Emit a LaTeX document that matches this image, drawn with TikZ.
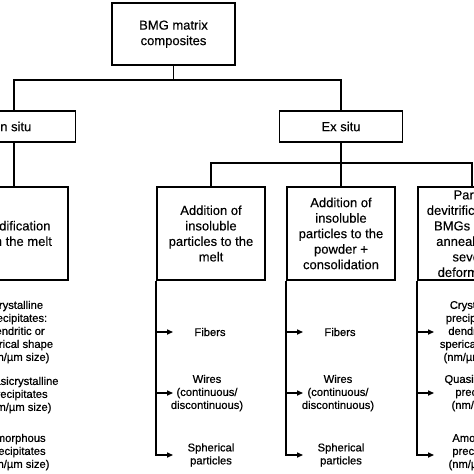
\documentclass[tikz,border=0pt]{standalone}
\usepackage{fontspec}
\setmainfont{Liberation Sans}
\newfontfamily\lblfont[FakeBold=0.6]{Liberation Sans}
\newfontfamily\boxfont[FakeBold=0.25]{Liberation Sans}
\usetikzlibrary{arrows.meta}
\begin{document}
\begin{tikzpicture}[x=1pt,y=-1pt,
  box/.style={draw, line width=1.9pt, minimum width=108pt, minimum height=93pt,
    align=center, inner sep=0pt, font=\boxfont\fontsize{13}{15.5}\selectfont},
  lbl/.style={align=center, inner sep=0pt, font=\lblfont\fontsize{11.2}{13}\selectfont},
  conn/.style={line width=1.5pt},
  arr/.style={conn, -{Triangle[length=6pt,width=5pt]}}]
\useasboundingbox (0,0) rectangle (474,474);
\fill[white] (0,0) rectangle (474,474);
\clip (0,0) rectangle (474,474);

% top level
\node[box, minimum width=123pt, minimum height=62pt] (top) at (173.5,34) {BMG matrix\\composites};
\node[box, minimum width=123pt, minimum height=31pt] (insitu) at (14,126.5) {In situ};
\node[box, minimum width=123pt, minimum height=31pt] (exsitu) at (341,126.5) {Ex situ};

% second level
\node[box] (L) at (14,233.5) {Solidification\\from the melt};
\node[box] (A) at (211,233.5) {Addition of\\insoluble\\particles to the\\melt};
\node[box] (B) at (341,233.5) {Addition of\\insoluble\\particles to the\\powder +\\consolidation};
\node[box] (C) at (472,233.5) {Partial\\devitrification of\\BMGs during\\annealing or\\severe\\deformation};

% connectors
\coordinate (j0) at (173.5,80);
\coordinate (j1) at (341,163);
\draw[conn] (top.south) -- (j0);
\draw[conn] (insitu.north) |- (exsitu.north |- j0) -- (exsitu.north);
\draw[conn] (insitu.south) -- (L.north);
\draw[conn] (exsitu.south) -- (B.north);
\draw[conn] (A.north) |- (C.north |- j1) -- (C.north);

% branches with arrows
\foreach \X in {L,A,B,C}{
  \coordinate (\X1) at (\X.south west |- 0,332);
  \coordinate (\X2) at (\X.south west |- 0,393);
  \coordinate (\X3) at (\X.south west |- 0,455);
  \coordinate (\X1t) at ([xshift=17pt]\X1);
  \coordinate (\X2t) at ([xshift=17pt]\X2);
  \coordinate (\X3t) at ([xshift=17pt]\X3);
  \draw[arr] (\X.south west) |- (\X3t);
  \draw[arr] (\X1) -- (\X1t);
  \draw[arr] (\X2) -- (\X2t);
}

% labels, in situ column
\node[lbl] (L1l) at (17,332) {Crystalline\\precipitates:\\dendritic or\\sperical shape\\(nm/µm size)};
\node[lbl] (L2l) at (19,395) {Quasicrystalline\\precipitates\\(nm/µm size)};
\node[lbl] (L3l) at (17,452) {Amorphous\\precipitates\\(nm/µm size)};

% labels, column A
\node[lbl] (A1l) at (210,332) {Fibers};
\node[lbl] (A2l) at (207,393) {Wires\\(continuous/\\discontinuous)};
\node[lbl] (A3l) at (211,455) {Spherical\\particles};

% labels, column B
\node[lbl] (B1l) at (340,332) {Fibers};
\node[lbl] (B2l) at (338,393) {Wires\\(continuous/\\discontinuous)};
\node[lbl] (B3l) at (341,455) {Spherical\\particles};

% labels, column C
\node[lbl] (C1l) at (476,332) {Crystalline\\precipitates:\\dendritic or\\sperical shape\\(nm/µm size)};
\node[lbl] (C2l) at (484,393) {Quasicrystalline\\precipitates\\(nm/µm size)};
\node[lbl] (C3l) at (481,452) {Amorphous\\precipitates\\(nm/µm size)};
\end{tikzpicture}
\end{document}
